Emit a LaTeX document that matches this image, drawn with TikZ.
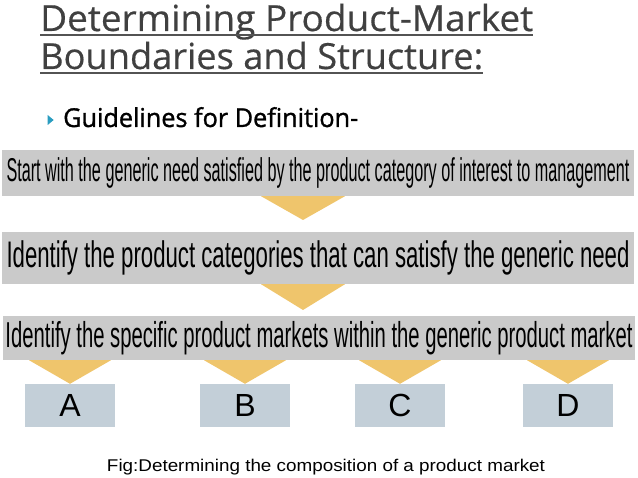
\documentclass[tikz,border=0pt]{standalone}
\usepackage{fontspec}
\setmainfont{Liberation Sans}
\newfontfamily\titlefont[FakeBold=0.4]{Open Sans}
\newfontfamily\guidefont[FakeBold=1.2]{Open Sans}
\usepackage{graphicx}
\usetikzlibrary{positioning,calc,shapes.geometric}
\definecolor{titlegray}{HTML}{404040}
\definecolor{bargray}{HTML}{CACACA}
\definecolor{chevgold}{HTML}{EFC56C}
\definecolor{boxblue}{HTML}{C3CFD8}
\definecolor{bullblue}{HTML}{2A9DC0}
\tikzset{headline/.style={anchor=base west, inner sep=0pt, text=titlegray, font=\titlefont}}
\tikzset{uline/.style={draw=titlegray!90, line width=1.6pt}}
\tikzset{bar/.style={fill=bargray, minimum width=632pt, inner sep=0pt, anchor=center}}
\tikzset{letterbox/.style={fill=boxblue, minimum width=90pt, minimum height=43pt, inner sep=0pt, font=\fontsize{32}{32}\selectfont}}
\tikzset{chev/.style={fill=chevgold}}
\tikzset{bullet/.style={isosceles triangle, fill=bullblue, inner sep=0pt, minimum height=6pt, minimum width=10pt, isosceles triangle stretches}}
\newcommand{\fitw}[3]{\resizebox{#1pt}{\height}{\fontsize{#2}{#2}\selectfont #3}}

\begin{document}
\begin{tikzpicture}[x=1pt, y=-1pt]
\useasboundingbox (0,0) rectangle (638,478);
% heading
\node[headline] at (40,31) (t1) {\fitw{493}{36}{Determining Product-Market}};
\node[headline] at (40,69) (t2) {\fitw{443}{36}{Boundaries and Structure:}};
	\draw[uline] ([yshift=-4pt]t1.base west) -- ([yshift=-4pt]t1.base east);
	\draw[uline] ([yshift=-4pt]t2.base west) -- ([yshift=-4pt]t2.base east);
\node[bullet] at (50,120) (bul) {};
\node[headline, text=black, font=\guidefont] at (63,127) (guide) {\fitw{295}{26}{Guidelines for Definition-}};
% steps
\begin{scope}[every node/.style={bar}]
	\node[minimum height=46pt] at (318,173) (s1) {\fitw{623}{33}{Start with the generic need satisfied by the product category of interest to management}};
	\node[minimum height=52pt] at (318,258) (s2) {\fitw{623}{37}{Identify the product categories that can satisfy the generic need}};
	\node[minimum height=44pt] at (319,338) (s3) {\fitw{627}{36}{Identify the specific product markets within the generic product market}};
\end{scope}
\node[letterbox] at (70,405.5) (bA) {A};
\node[letterbox] at (245,405.5) (bB) {B};
\node[letterbox] at (400,405.5) (bC) {C};
\node[letterbox] at (568,405.5) (bD) {D};
\coordinate (c1) at (303,220);
\coordinate (c2) at (303,310);
\fill[chev] (c1 |- s1.south) ++(-42,0) -- ++(84,0) -- (c1) -- cycle;
\fill[chev] (c2 |- s2.south) ++(-42,0) -- ++(84,0) -- (c2) -- cycle;
\foreach \b in {bA,bB,bC,bD}
	\fill[chev] (\b.north |- s3.south) ++(-41,0) -- ++(82,0) -- (\b.north) -- cycle;
\node[anchor=base, inner sep=0pt] at (326,472) (cap) {\fitw{438}{17}{Fig:Determining the composition of a product market}};
\end{tikzpicture}
\end{document}
